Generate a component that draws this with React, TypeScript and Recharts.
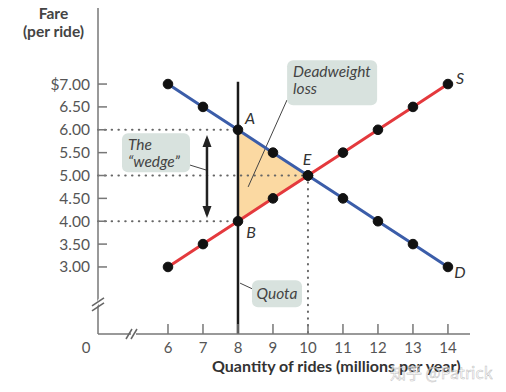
import { ComposedChart, Line, Area, XAxis, YAxis, ReferenceLine, ReferenceDot } from 'recharts'

// taxi-medallion quota example: fares in $, quantity in millions of rides per year
const quantities = [6, 7, 8, 9, 10, 11, 12, 13, 14]
const demandFares = [7, 6.5, 6, 5.5, 5, 4.5, 4, 3.5, 3]
const supplyFares = [3, 3.5, 4, 4.5, 5, 5.5, 6, 6.5, 7]
const fareTicks = [3, 3.5, 4, 4.5, 5, 5.5, 6, 6.5, 7]
const quantityTicks = [4, 6, 7, 8, 9, 10, 11, 12, 13, 14] // 4 = broken-axis origin, shown as 0
const quota = 8
const equilibrium = { q: 10, fare: 5 }
const quotaDemandFare = 6
const quotaSupplyFare = 4

const X_DOMAIN = [4, 14.63]
const Y_DOMAIN = [1.534, 8.663]

const FONT = 'Lato, "Open Sans", sans-serif'
const BLUE = '#3b5da9'
const RED = '#e4393d'
const BOX = '#d8e2de'
const DOTTED = '#666'

const demandData = quantities.map((q, i) => ({ q, fare: demandFares[i] }))
const supplyData = quantities.map((q, i) => ({ q, fare: supplyFares[i] }))
const dwlData = quantities
  .map((q, i) => ({ q, band: [supplyFares[i], demandFares[i]] }))
  .filter((d) => d.q >= quota && d.q <= equilibrium.q)

const fmtFare = (v: number) => (v === 7 ? '$7.00' : v.toFixed(2))

const YTick = ({ x, y, payload }: any) => (
  <g>
    <line x1={x} x2={x + 9} y1={y} y2={y} stroke="#777" strokeWidth={1.5} />
    <text x={x - 8} y={y} dy={5.5} textAnchor="end" fontSize={15.5} fill="#555" fontFamily={FONT}>
      {fmtFare(payload.value)}
    </text>
  </g>
)

const XTick = ({ x, y, payload }: any) => {
  if (payload.value === 4) {
    return (
      <text x={x - 12} y={y + 19} textAnchor="middle" fontSize={15} fill="#555" fontFamily={FONT}>
        0
      </text>
    )
  }
  return (
    <g>
      <line x1={x} x2={x} y1={y} y2={y - 10} stroke="#777" strokeWidth={1.5} />
      <text x={x} y={y + 19} textAnchor="middle" fontSize={15} fill="#555" fontFamily={FONT}>
        {payload.value}
      </text>
    </g>
  )
}

// italic point label, offset in pixels from the anchor point
const pointLabel = (text: string, dx: number, dy: number) => (p: any) => (
  <text
    x={p.cx + dx}
    y={p.cy + dy}
    textAnchor="middle"
    fontSize={16}
    fontStyle="italic"
    fill="#333"
    fontFamily={FONT}
  >
    {text}
  </text>
)

const noteBox = (lines: string[], w: number, h: number, center = false) => (p: any) => (
  <g>
    <rect x={p.cx - w / 2} y={p.cy - h / 2} width={w} height={h} rx={6} fill={BOX} />
    {lines.map((t, i) => (
      <text
        key={i}
        x={center ? p.cx : p.cx - w / 2 + 6}
        y={p.cy - h / 2 + (lines.length === 1 ? h / 2 + 5.5 : 16.5 + i * 17)}
        textAnchor={center ? 'middle' : 'start'}
        fontSize={15.5}
        fontStyle="italic"
        fill="#444"
        fontFamily={FONT}
      >
        {t}
      </text>
    ))}
  </g>
)

const arrowHead = (up: boolean) => (p: any) => {
  const s = up ? 1 : -1
  return (
    <polygon
      points={`${p.cx},${p.cy} ${p.cx - 4.5},${p.cy + s * 12} ${p.cx + 4.5},${p.cy + s * 12}`}
      fill="#222"
    />
  )
}

const axisBreak = (vertical: boolean) => (p: any) => {
  const { cx, cy } = p
  if (vertical) {
    return (
      <g stroke="#666" strokeWidth={1.5}>
        <polygon points={`${cx - 2},${cy + 3} ${cx + 2},${cy - 3} ${cx + 2},${cy - 8} ${cx - 2},${cy - 2}`} fill="#fff" stroke="none" />
        <line x1={cx - 6} y1={cy + 6} x2={cx + 6} y2={cy - 2} />
        <line x1={cx - 6} y1={cy + 1} x2={cx + 6} y2={cy - 7} />
      </g>
    )
  }
  return (
    <g stroke="#666" strokeWidth={1.5}>
      <rect x={cx - 2} y={cy - 2} width={5} height={4} fill="#fff" stroke="none" />
      <line x1={cx - 7} y1={cy + 5} x2={cx - 1} y2={cy - 5} />
      <line x1={cx - 2} y1={cy + 5} x2={cx + 4} y2={cy - 5} />
    </g>
  )
}

const dotted = { stroke: DOTTED, strokeWidth: 2, strokeDasharray: '0.5 6.3', strokeLinecap: 'round' as const }

export default function App() {
  return (
    <div style={{ position: 'absolute', left: 0, top: 0, width: 506, height: 392, background: '#fff', fontFamily: FONT }}>
      <ComposedChart width={506} height={392} margin={{ top: 8, right: 36, left: 0, bottom: 0 }}>
        <XAxis
          type="number"
          dataKey="q"
          domain={X_DOMAIN}
          ticks={quantityTicks}
          interval={0}
          allowDataOverflow
          height={58}
          tickSize={0}
          tickMargin={0}
          tickLine={false}
          tick={<XTick />}
          axisLine={{ stroke: '#777', strokeWidth: 1.5 }}
        />
        <YAxis
          type="number"
          domain={Y_DOMAIN}
          ticks={fareTicks}
          interval={0}
          allowDataOverflow
          width={98}
          tickSize={0}
          tickMargin={0}
          tickLine={false}
          tick={<YTick />}
          axisLine={{ stroke: '#777', strokeWidth: 1.5 }}
        />

        <Area
          data={dwlData}
          dataKey="band"
          type="linear"
          fill="#fbd9a2"
          fillOpacity={1}
          stroke="none"
          isAnimationActive={false}
        />

        <ReferenceLine segment={[{ x: 4, y: quotaDemandFare }, { x: quota, y: quotaDemandFare }]} {...dotted} />
        <ReferenceLine segment={[{ x: 4, y: equilibrium.fare }, { x: equilibrium.q, y: equilibrium.fare }]} {...dotted} />
        <ReferenceLine segment={[{ x: 4, y: quotaSupplyFare }, { x: quota, y: quotaSupplyFare }]} {...dotted} />
        <ReferenceLine segment={[{ x: equilibrium.q, y: equilibrium.fare }, { x: equilibrium.q, y: Y_DOMAIN[0] }]} {...dotted} />

        {/* quota line */}
        <ReferenceLine segment={[{ x: quota, y: Y_DOMAIN[0] }, { x: quota, y: 7.05 }]} stroke="#1a1a1a" strokeWidth={2.5} />

        {/* annotation connectors */}
        <ReferenceLine segment={[{ x: 9.4, y: 6.65 }, { x: 8.29, y: 4.75 }]} stroke="#444" strokeWidth={1} />
        <ReferenceLine segment={[{ x: 6.63, y: 5.228 }, { x: 7.09, y: 5.12 }]} stroke="#444" strokeWidth={1} />
        <ReferenceLine segment={[{ x: 8.06, y: 2.646 }, { x: 8.43, y: 2.514 }]} stroke="#444" strokeWidth={1} />

        {/* the wedge double arrow */}
        <ReferenceLine segment={[{ x: 7.114, y: 5.8 }, { x: 7.114, y: 4.15 }]} stroke="#222" strokeWidth={2.5} />
        <ReferenceDot x={7.114} y={5.884} shape={arrowHead(true)} />
        <ReferenceDot x={7.114} y={4.068} shape={arrowHead(false)} />

        <Line
          data={demandData}
          dataKey="fare"
          type="linear"
          stroke={BLUE}
          strokeWidth={3}
          dot={{ r: 4.8, fill: '#111', stroke: '#111', strokeWidth: 1 }}
          isAnimationActive={false}
        />
        <Line
          data={supplyData}
          dataKey="fare"
          type="linear"
          stroke={RED}
          strokeWidth={3}
          dot={{ r: 4.8, fill: '#111', stroke: '#111', strokeWidth: 1 }}
          isAnimationActive={false}
        />

        <ReferenceDot x={quota} y={quotaDemandFare} shape={pointLabel('A', 12, -6)} />
        <ReferenceDot x={quota} y={quotaSupplyFare} shape={pointLabel('B', 13, 17)} />
        <ReferenceDot x={equilibrium.q} y={equilibrium.fare} shape={pointLabel('E', -1, -11)} />
        <ReferenceDot x={14} y={7} shape={pointLabel('S', 12, 0)} />
        <ReferenceDot x={14} y={3} shape={pointLabel('D', 12, 11)} />

        <ReferenceDot x={10.69} y={7.03} shape={noteBox(['Deadweight', 'loss'], 90, 45)} />
        <ReferenceDot x={5.657} y={5.5} shape={noteBox(['The', '\u201cwedge\u201d'], 68, 39)} />
        <ReferenceDot x={9.114} y={2.416} shape={noteBox(['Quota'], 50, 27, true)} />

        <ReferenceDot x={4} y={2.17} shape={axisBreak(true)} />
        <ReferenceDot x={5} y={Y_DOMAIN[0]} shape={axisBreak(false)} />
      </ComposedChart>

      <div
        style={{
          position: 'absolute',
          left: 0,
          top: 4,
          width: 107,
          textAlign: 'center',
          fontWeight: 700,
          fontSize: 15.5,
          lineHeight: '18px',
          color: '#444',
        }}
      >
        <div>Fare</div>
        <div>(per ride)</div>
      </div>
      <div
        style={{
          position: 'absolute',
          left: 212,
          top: 356,
          fontWeight: 700,
          fontSize: 16,
          color: '#333',
          whiteSpace: 'nowrap',
        }}
      >
        Quantity of rides (millions per year)
      </div>
      <div
        style={{
          position: 'absolute',
          left: 390,
          top: 360,
          fontSize: 16,
          color: '#fff',
          opacity: 0.75,
          WebkitTextStroke: '0.5px #aaa',
          whiteSpace: 'nowrap',
          fontFamily: '"Noto Sans CJK SC", sans-serif',
        }}
      >
        知乎 @Patrick
      </div>
    </div>
  )
}
